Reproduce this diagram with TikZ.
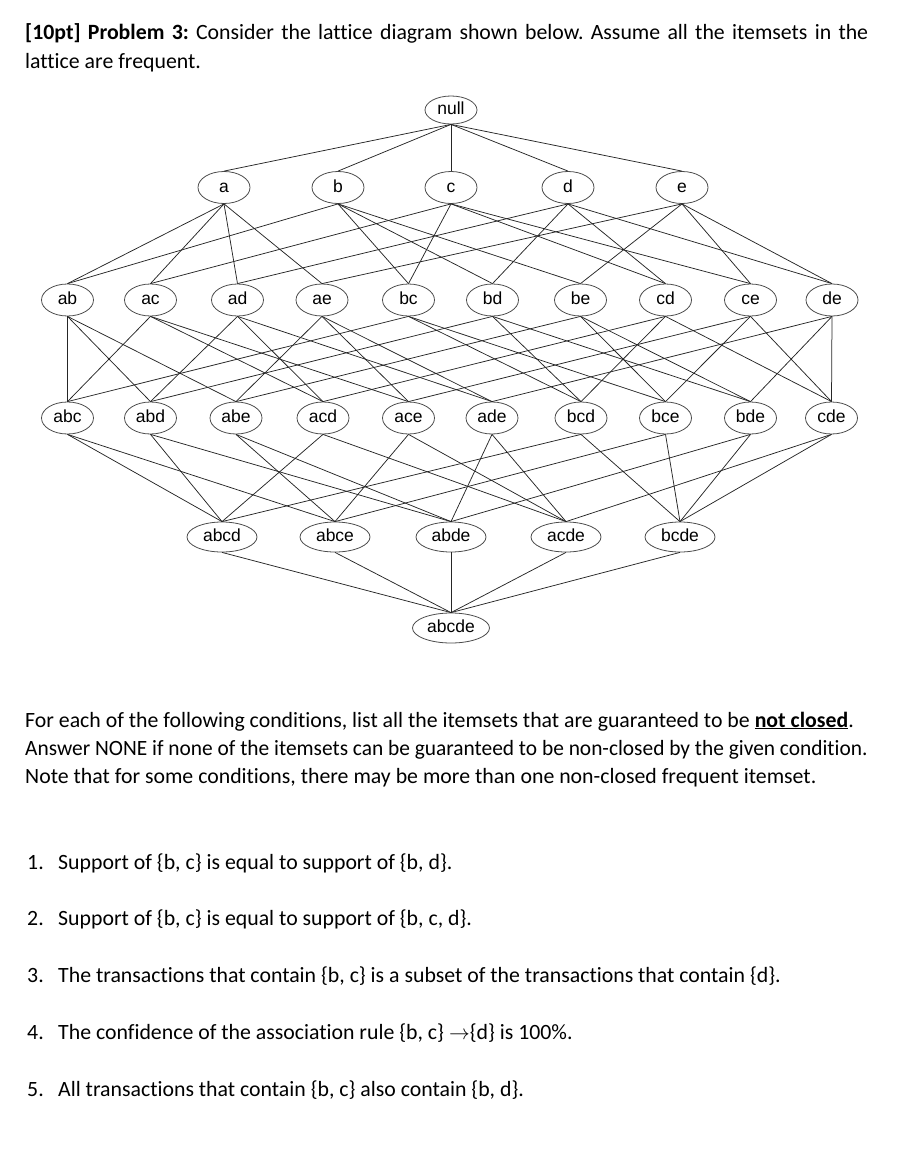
\documentclass[tikz,border=0pt]{standalone}
\usepackage{fontspec}
\usepackage{graphicx}
\setmainfont{Carlito}[Ligatures=NoCommon]
\newfontfamily\labelfont{Liberation Sans}
\usetikzlibrary{shapes.geometric}
\frenchspacing
\begin{document}
\begin{tikzpicture}[x=1pt,y=-1pt,
  set/.style={ellipse,draw=black!70,line width=0.8pt,inner sep=0pt,minimum width=52pt,minimum height=32pt,text height=12.5pt,text depth=3.5pt,font=\labelfont\fontsize{17.5}{19}\selectfont},
  big/.style={set,minimum width=70pt,minimum height=30pt},
  top/.style={set,minimum width=77pt,minimum height=30pt},
  link/.style={draw=black!85,line width=0.75pt},
  txt/.style={anchor=base west,inner sep=0pt,font=\fontsize{21.8}{24}\selectfont}]
\useasboundingbox (0,0) rectangle (918,1156);
% text
\node[txt] (t1) at (25,40) {\makebox[843pt][s]{\textbf{[10pt] Problem 3:} Consider the lattice diagram shown below. Assume all the itemsets in the}};
\node[txt] (t2) at (25,69) {lattice are frequent.};
\node[txt] (p1) at (25,727) {For each of the following conditions, list all the itemsets that are guaranteed to be \textbf{\underline{not closed}}.};
\node[txt] (p2) at (25,755) {\scalebox{0.981}[1]{Answer NONE if none of the itemsets can be guaranteed to be non-closed by the given condition.}};
\node[txt] (p3) at (25,783) {Note that for some conditions, there may be more than one non-closed frequent itemset.};
\foreach \n/\yy/\s in {1/869/{Support of \{b, c\} is equal to support of \{b, d\}.},
  2/925/{Support of \{b, c\} is equal to support of \{b, c, d\}.},
  3/982/{The transactions that contain \{b, c\} is a subset of the transactions that contain \{d\}.},
  4/1039/{The confidence of the association rule \{b, c\} $\rightarrow$\{d\} is 100\%.},
  5/1096/{All transactions that contain \{b, c\} also contain \{b, d\}.}}{
  \node[txt] (num\n) at (27,\yy) {\n.};
  \node[txt] (item\n) at (58,\yy) {\s};
}
% lattice nodes
\node[set,minimum height=28pt] (null) at (451,110) {null};
\foreach \n/\x in {a/224,b/338,c/451,d/568,e/682}
  \node[set] (\n) at (\x,187.5) {\n};
\foreach \n/\x in {ab/67.5,ac/150.5,ad/237.5,ae/322,bc/408.5,bd/492.5,be/580.5,cd/665.5,ce/750.5,de/832}
  \node[set] (\n) at (\x,300) {\n};
\foreach \n/\x in {abc/67.5,abd/150.5,abe/236,acd/323,ace/408.5,ade/492,bcd/581,bce/665.5,bde/750.5,cde/831.5}
  \node[set] (\n) at (\x,418) {\n};
\foreach \n/\x in {abcd/222,abce/335,abde/451,acde/566,bcde/680}
  \node[big] (\n) at (\x,537) {\n};
\node[top] (abcde) at (451,628) {abcde};
% edges
\foreach \s in {a,b,c,d,e} \draw[link] (null.south) -- (\s.north);
\foreach \t/\ss in {ab/{a,b},ac/{a,c},ad/{a,d},ae/{a,e},bc/{b,c},bd/{b,d},be/{b,e},cd/{c,d},ce/{c,e},de/{d,e}}
  \foreach \s in \ss \draw[link] (\s.south) -- (\t.north);
\foreach \t/\ss in {abc/{ab,ac,bc},abd/{ab,ad,bd},abe/{ab,ae,be},acd/{ac,ad,cd},ace/{ac,ae,ce},ade/{ad,ae,de},bcd/{bc,bd,cd},bce/{bc,be,ce},bde/{bd,be,de},cde/{cd,ce,de}}
  \foreach \s in \ss \draw[link] (\s.south) -- (\t.north);
\foreach \t/\ss in {abcd/{abc,abd,acd,bcd},abce/{abc,abe,ace,bce},abde/{abd,abe,ade,bde},acde/{acd,ace,ade,cde},bcde/{bcd,bce,bde,cde}}
  \foreach \s in \ss \draw[link] (\s.south) -- (\t.north);
\foreach \s in {abcd,abce,abde,acde,bcde} \draw[link] (\s.south) -- (abcde.north);
\end{tikzpicture}
\end{document}
